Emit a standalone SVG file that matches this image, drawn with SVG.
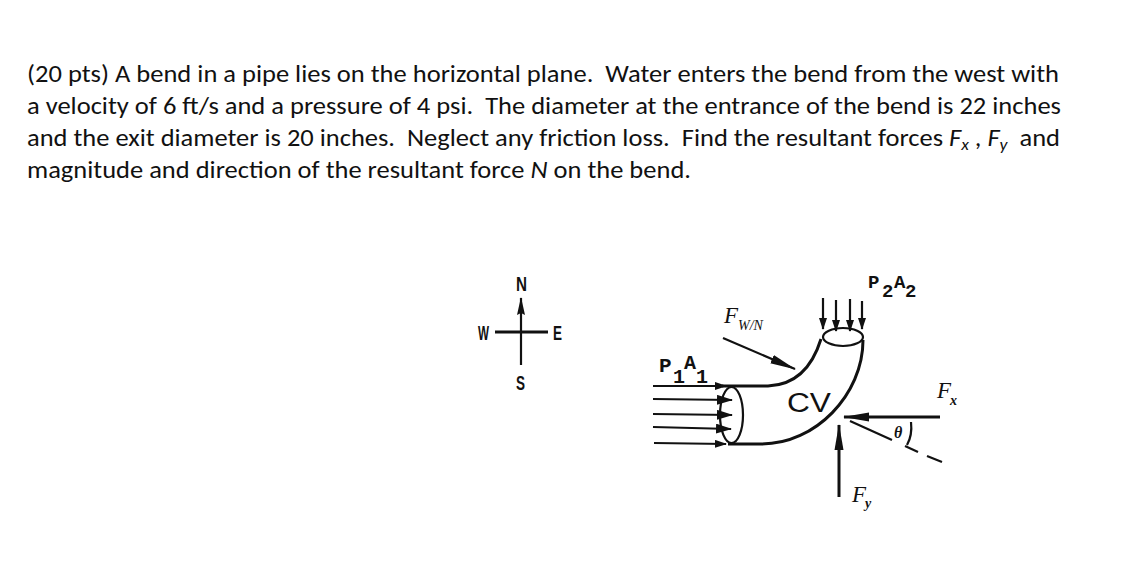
<svg xmlns="http://www.w3.org/2000/svg" width="1136" height="564" viewBox="0 0 1136 564">
<defs>
<marker id="a" markerWidth="12" markerHeight="8" refX="11" refY="4" orient="auto" markerUnits="userSpaceOnUse"><path d="M0 0L12 4L0 8Z" fill="#111"/></marker>
<marker id="c" markerWidth="16" markerHeight="10" refX="15" refY="5" orient="auto" markerUnits="userSpaceOnUse"><path d="M0 0L16 5L0 10Z" fill="#111"/></marker>
<marker id="n" markerWidth="18" markerHeight="10" refX="17" refY="5" orient="auto" markerUnits="userSpaceOnUse"><path d="M0 1L18 5L0 9L2 5Z" fill="#111"/></marker>
<marker id="b" markerWidth="26" markerHeight="12" refX="25" refY="6" orient="auto" markerUnits="userSpaceOnUse"><path d="M0 1.500L26 6L0 10.500Z" fill="#111"/></marker>
</defs>
<style>
.q{font-family:Calibri,Carlito,"Open Sans","Liberation Sans",sans-serif;font-size:24px;fill:#111;white-space:pre}
.s{font-family:"Liberation Sans",sans-serif;font-weight:700;fill:#111;font-size:21px}
.m{font-family:"Liberation Mono",monospace;font-weight:700;fill:#111}
.i{font-family:"Liberation Serif",serif;font-style:italic;fill:#111}
.l{fill:none;stroke:#111;stroke-width:2.200}
.h{fill:none;stroke:#111;stroke-width:3}
</style>
<rect width="1136" height="564" fill="#fff"/>
<g id="question">
<text class="q" x="27" y="82" textLength="1032" lengthAdjust="spacingAndGlyphs">(20 pts) A bend in a pipe lies on the horizontal plane.  Water enters the bend from the west with</text>
<text class="q" x="27" y="114" textLength="1034" lengthAdjust="spacingAndGlyphs">a velocity of 6 ft/s and a pressure of 4 psi.  The diameter at the entrance of the bend is 22 inches</text>
<text class="q" x="27" y="146" textLength="1033" lengthAdjust="spacingAndGlyphs">and the exit diameter is 20 inches.  Neglect any friction loss.  Find the resultant forces <tspan font-style="italic">F</tspan><tspan font-size="16" font-style="italic" dy="4">x</tspan><tspan dy="-4"> , </tspan><tspan font-style="italic">F</tspan><tspan font-size="16" font-style="italic" dy="4">y</tspan><tspan dy="-4">  and</tspan></text>
<text class="q" x="27" y="178" textLength="664" lengthAdjust="spacingAndGlyphs">magnitude and direction of the resultant force <tspan font-style="italic">N</tspan> on the bend.</text>
</g>
<g id="compass">
<line class="l" x1="521" y1="365" x2="521" y2="298" marker-end="url(#n)"/>
<line class="h" x1="495" y1="332" x2="548" y2="332"/>
<text class="s" x="516" y="291" textLength="11" lengthAdjust="spacingAndGlyphs">N</text>
<text class="s" x="553" y="340" textLength="9" lengthAdjust="spacingAndGlyphs">E</text>
<text class="s" x="516" y="390" textLength="9" lengthAdjust="spacingAndGlyphs">S</text>
<text class="s" x="478" y="340" textLength="11" lengthAdjust="spacingAndGlyphs">W</text>
</g>
<g id="pipe-bend">
<path class="h" d="M722 386H768C795 385 812 368 821 339"/>
<path class="h" d="M728 444H762C815 444 863 395 863 340"/>
<ellipse class="l" cx="731.500" cy="415" rx="11.500" ry="28" stroke-width="2.500"/>
<ellipse class="l" cx="843" cy="337" rx="20" ry="9"/>
<text id="cv" x="787" y="412" font-family="Liberation Sans,sans-serif" font-size="27" fill="#111" textLength="44" lengthAdjust="spacingAndGlyphs">CV</text>
</g>
<g id="connectors">
<g class="l">
<line x1="653" y1="386" x2="726" y2="386" marker-end="url(#a)"/>
<line x1="653" y1="399" x2="732" y2="400" marker-end="url(#c)"/>
<line x1="653" y1="414" x2="732" y2="415" marker-end="url(#c)"/>
<line x1="653" y1="427" x2="731" y2="429" marker-end="url(#c)"/>
<line x1="654" y1="443" x2="726" y2="444" marker-end="url(#a)"/>
<line x1="823" y1="298" x2="823" y2="329" marker-end="url(#a)"/>
<line x1="836" y1="300" x2="836" y2="331" marker-end="url(#a)"/>
<line x1="850" y1="299" x2="850" y2="331" marker-end="url(#a)"/>
<line x1="862" y1="301" x2="862" y2="329" marker-end="url(#a)"/>
<line x1="723" y1="338" x2="795" y2="369" marker-end="url(#b)"/>
</g>
<line class="h" x1="940" y1="417" x2="844" y2="417" marker-end="url(#b)"/>
<line class="h" x1="839" y1="497" x2="839" y2="425" marker-end="url(#b)"/>
<path class="l" stroke-width="2.500" d="M850 421L892 440M905 446L918 452M927 456L942 462"/>
<path class="l" d="M911 422C912 431 911 438 907 445"/>
</g>
<g id="labels">
<text class="m" x="659" y="372" font-size="21">P</text><text class="m" x="673" y="383" font-size="20">1</text><text class="m" x="684" y="369" font-size="20">A</text><text class="m" x="696" y="383" font-size="20">1</text>
<text class="m" x="868" y="288" font-size="19">P</text><text class="m" x="882" y="297" font-size="19">2</text><text class="m" x="894" y="288" font-size="19">A</text><text class="m" x="905" y="297" font-size="19">2</text>
<text class="i" x="724" y="323" font-size="23">F</text><text class="i" x="738" y="330" font-size="14">W/N</text>
<text class="i" x="937" y="398" font-size="23">F</text><text class="i" x="950" y="405" font-size="14" font-weight="700">x</text>
<text class="i" x="852" y="502" font-size="23">F</text><text class="i" x="865" y="508" font-size="14" font-weight="700">y</text>
<text class="i" x="894" y="438" font-size="16" font-weight="700">θ</text>
</g>
</svg>
